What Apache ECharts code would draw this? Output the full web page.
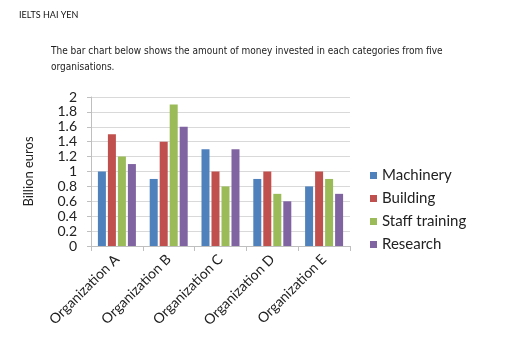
<!DOCTYPE html>
<html>
<head>
<meta charset="utf-8">
<script src="https://cdn.jsdelivr.net/npm/echarts@6/dist/echarts.min.js"></script>
<style>
  html, body { margin: 0; padding: 0; background: #fff; }
  #chart { width: 512px; height: 348px; }
</style>
</head>
<body>
<div id="chart"></div>
<script>
// Investment per category for five organisations (billion euros)
const categories = ['Organization A', 'Organization B', 'Organization C', 'Organization D', 'Organization E'];
const machinery = [1.0, 0.9, 1.3, 0.9, 0.8];
const building = [1.5, 1.4, 1.0, 1.0, 1.0];
const staffTraining = [1.2, 1.9, 0.8, 0.7, 0.9];
const research = [1.1, 1.6, 1.3, 0.6, 0.7];
const seriesNames = ['Machinery', 'Building', 'Staff training', 'Research'];
const seriesColors = ['#4F81BD', '#C0504D', '#9BBB59', '#8064A2'];

const chart = echarts.init(document.getElementById('chart'), null, { renderer: 'canvas' });
const font = 'Lato, "Open Sans", sans-serif';

const values = [machinery, building, staffTraining, research];
const series = values.map((d, i) => ({
  name: seriesNames[i],
  type: 'bar',
  data: d,
  barWidth: 8,
  barGap: '25%',
  itemStyle: { color: seriesColors[i] }
}));

chart.setOption({
  animation: false,
  title: [
    {
      text: 'IELTS HAI YEN',
      left: 14, top: 6,
      textStyle: { fontFamily: font, fontSize: 9, fontWeight: 'normal', color: '#111' }
    },
    {
      text: 'The bar chart below shows the amount of money invested in each categories from five\norganisations.',
      left: 46, top: 38,
      textStyle: {
        fontFamily: '"Liberation Sans Narrow", "DejaVu Sans Condensed", sans-serif',
        fontSize: 10, fontWeight: 'normal', color: '#222', lineHeight: 16
      }
    }
  ],
  legend: {
    orient: 'vertical',
    left: 370, top: 168,
    padding: 0,
    itemWidth: 7, itemHeight: 7,
    itemGap: 8,
    icon: 'rect',
    textStyle: { fontFamily: font, fontSize: 15, lineHeight: 15, color: '#222' },
    data: seriesNames
  },
  grid: { left: 91, right: 162, top: 97, bottom: 102 },
  xAxis: {
    type: 'category',
    data: categories,
    axisLine: { lineStyle: { color: '#BFBFBF' } },
    axisTick: { show: true, length: 5, lineStyle: { color: '#BFBFBF' } },
    axisLabel: {
      rotate: 45, fontFamily: font, fontSize: 14, color: '#222', margin: 11
    }
  },
  yAxis: {
    type: 'value',
    min: 0, max: 2, interval: 0.2,
    name: 'Billion euros',
    nameLocation: 'middle',
    nameGap: 56,
    nameTextStyle: { fontFamily: font, fontSize: 13, color: '#222' },
    axisLine: { show: true, lineStyle: { color: '#BFBFBF' } },
    axisTick: { show: true, length: 4, lineStyle: { color: '#BFBFBF' } },
    axisLabel: {
      fontFamily: font, fontSize: 14, color: '#222', margin: 14,
      formatter: v => String(Math.round(v * 10) / 10)
    },
    splitLine: { lineStyle: { color: '#D9D9D9' } }
  },
  series: series
});
</script>
</body>
</html>
